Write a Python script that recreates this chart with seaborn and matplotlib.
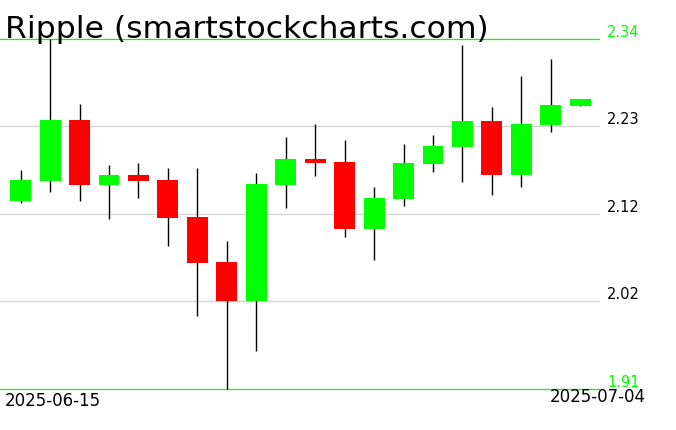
import numpy as np
import pandas as pd
import matplotlib
matplotlib.use("Agg")
import matplotlib.pyplot as plt
import seaborn as sns

# daily OHLC
dates = pd.date_range("2025-06-15", "2025-07-04", freq="D")
opens = [2.1414, 2.1659, 2.2405, 2.1610, 2.1729, 2.1668, 2.1210, 2.0660, 2.0185, 2.1610,
         2.1926, 2.1889, 2.1069, 2.1438, 2.1868, 2.2077, 2.2393, 2.1733, 2.2347, 2.2581]
highs = [2.1791, 2.3400, 2.2601, 2.1852, 2.1877, 2.1812, 2.1812, 2.0918, 2.1754, 2.2196,
         2.2356, 2.2159, 2.1582, 2.2110, 2.2221, 2.3326, 2.2565, 2.2945, 2.3154, 2.2663]
lows = [2.1389, 2.1524, 2.1414, 2.1189, 2.1450, 2.0861, 2.0001, 1.9100, 1.9571, 2.1327,
        2.1721, 2.0964, 2.0689, 2.1352, 2.1770, 2.1647, 2.1487, 2.1585, 2.2261, 2.2581]
closes = [2.1668, 2.2405, 2.1610, 2.1729, 2.1659, 2.1201, 2.0652, 2.0185, 2.1619, 2.1926,
          2.1880, 2.1069, 2.1447, 2.1877, 2.2085, 2.2393, 2.1733, 2.2356, 2.2589, 2.2663]

top_level = 2.34
bottom_level = 1.91

df = pd.DataFrame({"Date": dates, "Open": opens, "High": highs,
                   "Low": lows, "Close": closes})
df["idx"] = np.arange(len(df))
df["Up"] = df["Close"] >= df["Open"]

sns.set_theme(style="white")
plt.rcParams["font.family"] = ["DejaVu Sans"]
plt.rcParams["text.color"] = "black"

W, H = 676, 431
fig = plt.figure(figsize=(W / 100, H / 100), dpi=100)
fig.patch.set_facecolor("white")
ax = fig.add_axes([0, 0, 600 / W, 1])
ax.set_facecolor("white")
for s in ax.spines.values():
    s.set_visible(False)

# map price levels to the pixel rows of the reference (2.34 -> 40px, 1.91 -> 390px)
per_px = (top_level - bottom_level) / 350
ax.set_ylim(bottom_level - (H - 390) * per_px, top_level + 40 * per_px)
ax.set_xlim(-0.70, len(df) - 1 + 0.67)

levels = np.linspace(bottom_level, top_level, 5)
for lv in levels[1:-1]:
    ax.axhline(lv, color="#d3d3d3", lw=0.9, zorder=0)
for lv in (top_level, bottom_level):
    ax.axhline(lv, color="#00ff00", lw=0.9, zorder=0)

colors = np.where(df["Up"], "#00ff00", "#ff0000")
ax.vlines(df["idx"], df["Low"], df["High"], color="black", lw=1.0, zorder=2)
body_bottom = df[["Open", "Close"]].min(axis=1)
body_height = (df["Open"] - df["Close"]).abs()
ax.bar(df["idx"], body_height, bottom=body_bottom, width=0.71,
       color=colors, linewidth=0, zorder=3)

ax.set_xticks([])
ax.yaxis.tick_right()
ax.set_yticks(levels)
ax.set_yticklabels([f"{v:.2f}" for v in levels], fontsize=10.5)
ax.tick_params(axis="y", length=0, pad=5)
for lab, v in zip(ax.get_yticklabels(), levels):
    lab.set_va("bottom")
    lab.set_color("#00ff00" if v in (top_level, bottom_level) else "black")

fig.text(5 / W, 1 - 38 / H, "Ripple (smartstockcharts.com)", fontsize=22.6,
         color="black", ha="left", va="baseline")
fig.text(5 / W, 1 - 406 / H, df["Date"].iloc[0].strftime("%Y-%m-%d"),
         fontsize=12, color="black", ha="left", va="baseline")
fig.text(646 / W, 1 - 402 / H, df["Date"].iloc[-1].strftime("%Y-%m-%d"),
         fontsize=12, color="black", ha="right", va="baseline")

fig.savefig("out.png", dpi=100, facecolor="white")
